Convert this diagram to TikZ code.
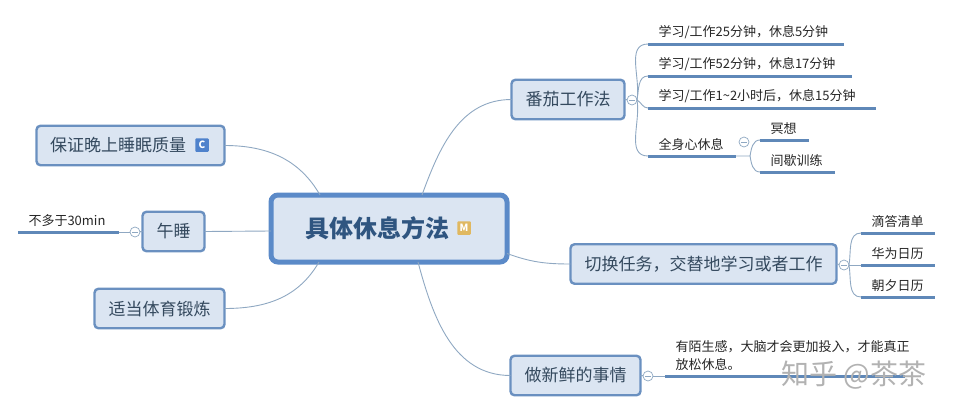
\documentclass[tikz,border=0pt]{standalone}
\usepackage{fontspec}
\setmainfont{Noto Sans CJK SC}
\usepackage{xcolor}
\usepackage{tikz}
\definecolor{cfill}{HTML}{DBE5F2}
\definecolor{cedge}{HTML}{6A90C0}
\definecolor{cmain}{HTML}{5B8AC8}
\definecolor{cbar}{HTML}{5F88B8}
\definecolor{clink}{HTML}{8FA8C2}
\definecolor{ctext}{HTML}{34495E}
\definecolor{ctitle}{HTML}{2F5580}
\definecolor{cgold}{HTML}{E0B860}
\definecolor{cicon}{HTML}{4F82CC}

\begin{document}
\begin{tikzpicture}[x=1pt,y=-1pt,
 box/.style={rectangle, rounded corners=4pt, draw=cedge, fill=cfill, line width=2.4pt,
 align=center, inner sep=0pt, outer sep=0pt, minimum height=39.5pt, text=ctext,
 font=\fontsize{17}{20}\selectfont},
 mainbox/.style={box, rounded corners=7pt, draw=cmain, line width=5pt,
 text=ctitle, font=\fontsize{24}{28}\selectfont\bfseries},
 leaf/.style={anchor=south west, align=left, inner xsep=10.5pt, inner ysep=5.5pt, outer sep=0pt,
 text width=#1, text=black!85, font=\fontsize{13}{18}\selectfont},
 fold/.style={circle, draw=clink, fill=white, line width=0.7pt, minimum size=10pt, inner sep=0pt,
 outer sep=0pt, path picture={\draw[clink, line width=0.7pt]
 ([xshift=-3pt]path picture bounding box.center) -- ([xshift=3pt]path picture bounding box.center);}},
 tag/.style={rectangle, rounded corners=1pt, minimum size=13.5pt, inner sep=0pt, text=white,
 font=\fontsize{10}{10}\selectfont\bfseries},
 bar/.style={draw=cbar, line width=3pt},
 link/.style={draw=clink, line width=0.9pt},
]
 \useasboundingbox (0,0) rectangle (953,413);

 \node[mainbox, minimum width=236pt, minimum height=67pt] (METHOD) at (389,228.5) {具体休息方法\hspace{23pt}};
 \node[box, minimum width=188pt] (SLEEP) at (130.5,145.5) {保证晚上睡眠质量\hspace{25pt}};
 \node[box, minimum width=62pt] (NAP) at (173.5,231.5) {午睡};
 \node[box, minimum width=130pt] (SPORT) at (159.5,308.5) {适当体育锻炼};
 \node[box, minimum width=113pt] (TOMATO) at (568,99.5) {番茄工作法};
 \node[box, minimum width=266pt] (SWITCH) at (703.5,264) {切换任务，交替地学习或者工作};
 \node[box, minimum width=130pt] (FRESH) at (575.5,375.5) {做新鲜的事情};

 \node[tag, fill=cicon] (TAGC) at (202,145) {C};
 \node[tag, fill=cgold] (TAGM) at (464,228) {M};

 \node[fold] (FNAP) at (135,232) {};
 \node[fold] (FTOMATO) at (632,100) {};
 \node[fold] (FREST) at (744,142) {};
 \node[fold] (FSWITCH) at (844,265) {};
 \node[fold] (FFRESH) at (648,376) {};

 \node[leaf=80pt] (NAP1) at (18,232) {不多于30min};
 \node[leaf=175pt] (T1) at (648,44) {学习/工作25分钟，休息5分钟};
 \node[leaf=183pt] (T2) at (648,76) {学习/工作52分钟，休息17分钟};
 \node[leaf=207pt] (T3) at (648,108) {学习/工作1\textasciitilde 2小时后，休息15分钟};
 \node[leaf=67pt] (T4) at (648,156) {全身心休息};
 \node[leaf=28pt] (R1) at (760,140) {冥想};
 \node[leaf=54pt] (R2) at (760,172) {间歇训练};
 \node[leaf=53pt] (S1) at (861,233) {滴答清单};
 \node[leaf=53pt] (S2) at (861,265) {华为日历};
 \node[leaf=53pt] (S3) at (861,297) {朝夕日历};
 \node[leaf=219pt] (F1) at (665,376) {\makebox[219pt][l]{有陌生感，大脑才会更加投入，才能真正}\\放松休息。};

 \foreach \n in {NAP1,T1,T2,T3,T4,R1,R2,S1,S2,S3,F1}
  \draw[bar] (\n.south west) -- (\n.south east);

 \draw[link] ([xshift=-69pt]METHOD.north) to[out=120,in=0] (SLEEP.east);
 \draw[link] ([yshift=-2.5pt]METHOD.west) -- (NAP.east);
 \draw[link] ([xshift=-70pt]METHOD.south) to[out=-120,in=0] (SPORT.east);
 \draw[link] ([xshift=33pt]METHOD.north) to[out=70,in=180] (TOMATO.west);
 \draw[link] ([yshift=-25pt]METHOD.east) to[out=-20,in=180] (SWITCH.west);
 \draw[link] ([xshift=29pt]METHOD.south) to[out=-75,in=180] (FRESH.west);

 \draw[link] (NAP.west) -- (FNAP);
 \draw[link] (FNAP) -- (NAP1.south east);
 \draw[link] (TOMATO.east) -- (FTOMATO);
 \draw[link] (FTOMATO.east) to[out=80,in=180] (T1.south west);
 \draw[link] (FTOMATO.east) to[out=80,in=180] (T2.south west);
 \draw[link] (FTOMATO.east) to[out=-30,in=180] (T3.south west);
 \draw[link] (FTOMATO.east) to[out=-80,in=180] (T4.south west);
 \draw[link] (T4.south east) -- ([xshift=14pt]T4.south east) to[out=80,in=180] (R1.south west);
 \draw[link] ([xshift=14pt]T4.south east) to[out=-80,in=180] (R2.south west);
 \draw[link] (SWITCH.east) -- (FSWITCH);
 \draw[link] (FSWITCH.east) to[out=80,in=180] (S1.south west);
 \draw[link] (FSWITCH.east) -- (S2.south west);
 \draw[link] (FSWITCH.east) to[out=-80,in=180] (S3.south west);
 \draw[link] (FRESH.east) -- (FFRESH);
 \draw[link] (FFRESH) -- (F1.south west);

 \node[text=black!30, inner sep=0pt, font=\fontsize{28}{32}\selectfont] (MARK) at (854,375) {知乎 @茶茶};
\end{tikzpicture}
\end{document}
